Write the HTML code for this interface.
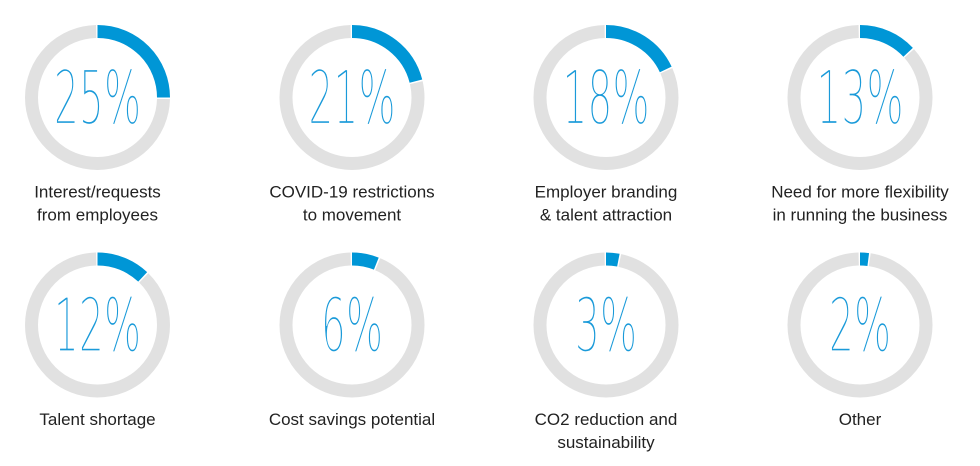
<!DOCTYPE html>
<html><head><meta charset="utf-8"><style>
html,body{margin:0;padding:0;background:#fff;}
svg{display:block}
.n{font-family:"DejaVu Sans","Liberation Sans",sans-serif;font-weight:200;font-size:74px;fill:#1a9ad9;stroke:#fff;stroke-width:1.3px}
.l{font-family:"Liberation Sans",sans-serif;font-size:17px;fill:#222}
</style></head><body>
<svg width="980" height="466" viewBox="0 0 980 466" xmlns="http://www.w3.org/2000/svg">
<g id="c"></g>
</svg>
<script>
var d=[[97.5,97.5,25,["Interest/requests","from employees"]],[352,97.5,21,["COVID-19 restrictions","to movement"]],[606,97.5,18,["Employer branding","& talent attraction"]],[860,97.5,13,["Need for more flexibility","in running the business"]],
[97.5,325,12,["Talent shortage"]],[352,325,6,["Cost savings potential"]],[606,325,3,["CO2 reduction and","sustainability"]],[860,325,2,["Other"]]];
var r=66,C=2*Math.PI*r,g=1.5,s="";
d.forEach(function(e){var x=e[0],y=e[1],p=e[2]/100;
s+='<g transform="rotate(-90 '+x+' '+y+')">';
s+='<circle cx="'+x+'" cy="'+y+'" r="'+r+'" fill="none" stroke="#e1e1e1" stroke-width="13" stroke-dasharray="'+(C*(1-p)-2*g)+' '+C+'" stroke-dashoffset="'+(-(p*C+g))+'"/>';
s+='<circle cx="'+x+'" cy="'+y+'" r="'+r+'" fill="none" stroke="#0096d6" stroke-width="13" stroke-dasharray="'+(p*C)+' '+C+'"/></g>';
s+='<text class="n" text-anchor="middle" transform="translate('+x+' '+(y+26)+') scale(0.53 1)">'+e[2]+'%</text>';
var ly=y+100;
e[3].forEach(function(t,i){s+='<text class="l" x="'+x+'" y="'+(ly+i*23)+'" text-anchor="middle">'+t.replace('&','&amp;')+'</text>';});
});
document.getElementById('c').innerHTML=s;
</script>
</body></html>
